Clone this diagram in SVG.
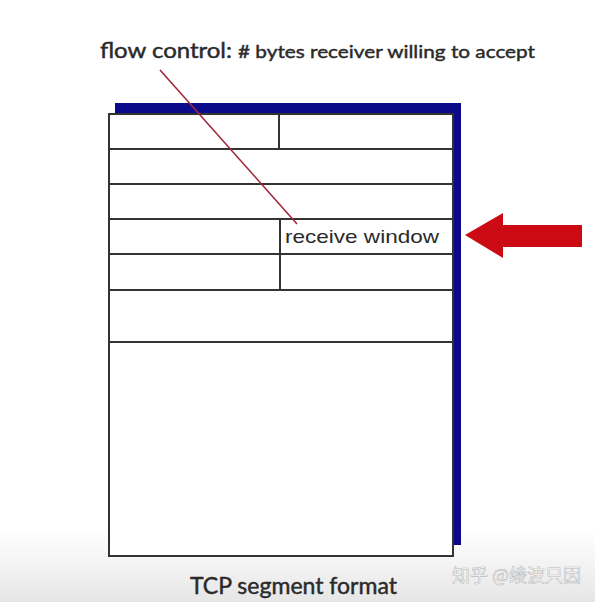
<svg xmlns="http://www.w3.org/2000/svg" width="595" height="602" viewBox="0 0 595 602">
<defs>
<linearGradient id="bg" x1="0" y1="0" x2="0" y2="1">
<stop offset="0" stop-color="#ffffff"/>
<stop offset="1" stop-color="#e6e6e6"/>
</linearGradient>
</defs>
<style>
.cell{fill:#ffffff;stroke:#333333;stroke-width:2}
.ln{stroke:#333333;stroke-width:2;fill:none}
.cal{font-family:Lato,"Open Sans",sans-serif;fill:#2a2a2a;stroke:#2a2a2a;stroke-width:0.45}
.arial{font-family:"Liberation Sans",Arial,sans-serif;fill:#2a2a2a}
</style>
<rect x="0" y="0" width="595" height="602" fill="#ffffff"/>
<rect x="0" y="530" width="595" height="72" fill="url(#bg)"/>
<g id="title">
<text class="cal" x="100" y="58" font-size="21" textLength="132" lengthAdjust="spacingAndGlyphs">flow control:</text>
<text class="cal" x="238" y="58" font-size="18" textLength="297" lengthAdjust="spacingAndGlyphs"># bytes receiver willing to accept</text>
</g>
<g id="segment">
<rect x="115" y="103" width="346" height="442" fill="#0a0a8a"/>
<rect class="cell" x="109" y="114" width="344" height="442"/>
<line class="ln" x1="109" y1="149" x2="453" y2="149"/>
<line class="ln" x1="109" y1="184" x2="453" y2="184"/>
<line class="ln" x1="109" y1="219" x2="453" y2="219"/>
<line class="ln" x1="109" y1="254" x2="453" y2="254"/>
<line class="ln" x1="109" y1="290" x2="453" y2="290"/>
<line class="ln" x1="109" y1="342" x2="453" y2="342"/>
<line class="ln" x1="279" y1="114" x2="279" y2="149"/>
<line class="ln" x1="280" y1="219" x2="280" y2="290"/>
<text class="arial" x="285" y="243" font-size="19" textLength="154" lengthAdjust="spacingAndGlyphs">receive window</text>
</g>
<g id="connectors">
<line x1="160" y1="70" x2="297" y2="224" stroke="#a0283c" stroke-width="1.6"/>
</g>
<g id="arrow">
<polygon points="465,235 503,213 503,225 582,225 582,247 503,247 503,258" fill="#cc0a14"/>
</g>
<g id="caption">
<text class="cal" x="190" y="594" font-size="23" stroke-width="0.7" textLength="207" lengthAdjust="spacingAndGlyphs">TCP segment format</text>
</g>
<text x="452" y="582" font-size="18" fill="#ffffff" stroke="#bbbbbb" stroke-width="0.6" font-family="'Noto Sans CJK SC',sans-serif">知乎 @绫波只因</text>
</svg>
